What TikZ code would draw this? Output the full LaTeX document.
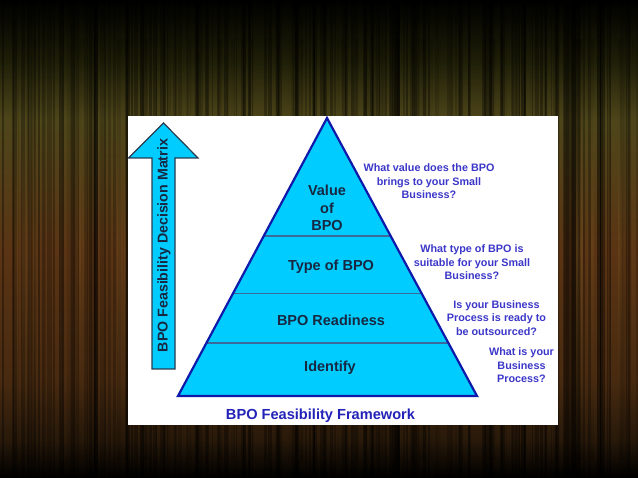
\documentclass[tikz,border=0pt]{standalone}
\usepackage{fontspec}
\setmainfont{Liberation Sans}[BoldFont={Liberation Sans Bold}]
\definecolor{pyrfill}{RGB}{0,204,255}
\definecolor{pyredge}{RGB}{15,25,170}
\definecolor{pyrdiv}{RGB}{60,105,155}
\definecolor{pyrtext}{RGB}{24,40,66}
\definecolor{qtext}{RGB}{60,55,200}
\definecolor{ttext}{RGB}{35,35,185}
\definecolor{arredge}{RGB}{40,60,80}
\definecolor{bgA}{RGB}{40,25,10}
\definecolor{bgB}{RGB}{72,42,16}
\definecolor{bgC}{RGB}{90,52,20}
\definecolor{bgD}{RGB}{78,70,26}
\definecolor{bgE}{RGB}{30,30,8}
\definecolor{stripeL}{RGB}{170,135,55}
\pgfdeclareverticalshading{bgshade}{100bp}{color(0bp)=(black); color(25bp)=(black); color(29bp)=(bgA); color(35.25bp)=(bgB); color(48.85bp)=(bgC); color(62.45bp)=(bgD); color(68.7bp)=(bgE); color(75bp)=(black); color(100bp)=(black)}
\tikzset{
  pyrlabel/.style={text=pyrtext, font=\bfseries\fontsize{14.5}{17.5}\selectfont, align=center, inner sep=0pt},
  qlabel/.style={text=qtext, font=\bfseries\fontsize{10.8}{13.6}\selectfont, align=center, inner sep=0pt},
  titlelabel/.style={text=ttext, font=\bfseries\fontsize{14.6}{17}\selectfont, inner sep=0pt},
  arrlabel/.style={text=pyrtext, font=\bfseries\fontsize{14.2}{17}\selectfont, inner sep=0pt, rotate=90},
}
\begin{document}
\begin{tikzpicture}[x=1pt,y=-1pt]
\useasboundingbox (0,0) rectangle (638,478);
% background (normal y orientation inside this scope)
\begin{scope}[y=1pt]
\shade[shading=bgshade] (0,-478) rectangle (638,0);
\pgfmathsetseed{1234}
\foreach \i in {1,...,220}{
  \pgfmathsetmacro{\sx}{638*rnd}
  \pgfmathsetmacro{\sw}{0.8+4*rnd}
  \pgfmathsetmacro{\so}{0.08+0.3*rnd}
  \fill[black,opacity=\so] (\sx,-478) rectangle ++(\sw,478);
}
\foreach \i in {1,...,60}{
  \pgfmathsetmacro{\sx}{638*rnd}
  \pgfmathsetmacro{\sw}{0.8+2.5*rnd}
  \pgfmathsetmacro{\so}{0.05+0.12*rnd}
  \shade[top color=black,bottom color=black,middle color=stripeL,opacity=\so] (\sx,-460) rectangle ++(\sw,420);
}
\end{scope}
% white panel
\fill[white] (127.5,116.5) rectangle (558,425);
% pyramid
\coordinate (apex) at (327,118);
\coordinate (bl) at (178,396);
\coordinate (br) at (477,396);
\fill[pyrfill] (apex) -- (br) -- (bl) -- cycle;
\coordinate (d1l) at (263.8,236); \coordinate (d1r) at (390.2,236);
\coordinate (d2l) at (232.9,293.5); \coordinate (d2r) at (421.1,293.5);
\coordinate (d3l) at (206.4,343); \coordinate (d3r) at (447.6,343);
\draw[pyrdiv,line width=1.5pt] (d1l) -- (d1r);
\draw[pyrdiv,line width=1.5pt] (d2l) -- (d2r);
\draw[pyrdiv,line width=1.5pt] (d3l) -- (d3r);
\draw[pyredge,line width=2.2pt,line join=miter] (apex) -- (br) -- (bl) -- cycle;
% pyramid labels
\node[pyrlabel] (value) at (327,208) {Value\\of\\BPO};
\node[pyrlabel] (type) at (331,267) {Type of BPO};
\node[pyrlabel] (ready) at (331,320) {BPO Readiness};
\node[pyrlabel] (ident) at (330,368) {Identify};
% questions
\node[qlabel] (q1) at (429,181.5) {What value does the BPO\\brings to your Small\\Business?};
\node[qlabel] (q2) at (472,262.5) {What type of BPO is\\suitable for your Small\\Business?};
\node[qlabel] (q3) at (496.5,318) {Is your Business\\Process is ready to\\be outsourced?};
\node[qlabel] (q4) at (521.5,365.5) {What is your\\Business\\Process?};
% title
\node[titlelabel] (title) at (320.5,416) {BPO Feasibility Framework};
% left arrow
\fill[pyrfill,draw=arredge,line width=1.2pt,line join=miter]
  (152,369) -- (175,369) -- (175,158) -- (198,158) -- (163.5,123) -- (128.5,158) -- (152,158) -- cycle;
\node[arrlabel] (matrix) at (164,245.5) {BPO Feasibility Decision Matrix};
\end{tikzpicture}
\end{document}
